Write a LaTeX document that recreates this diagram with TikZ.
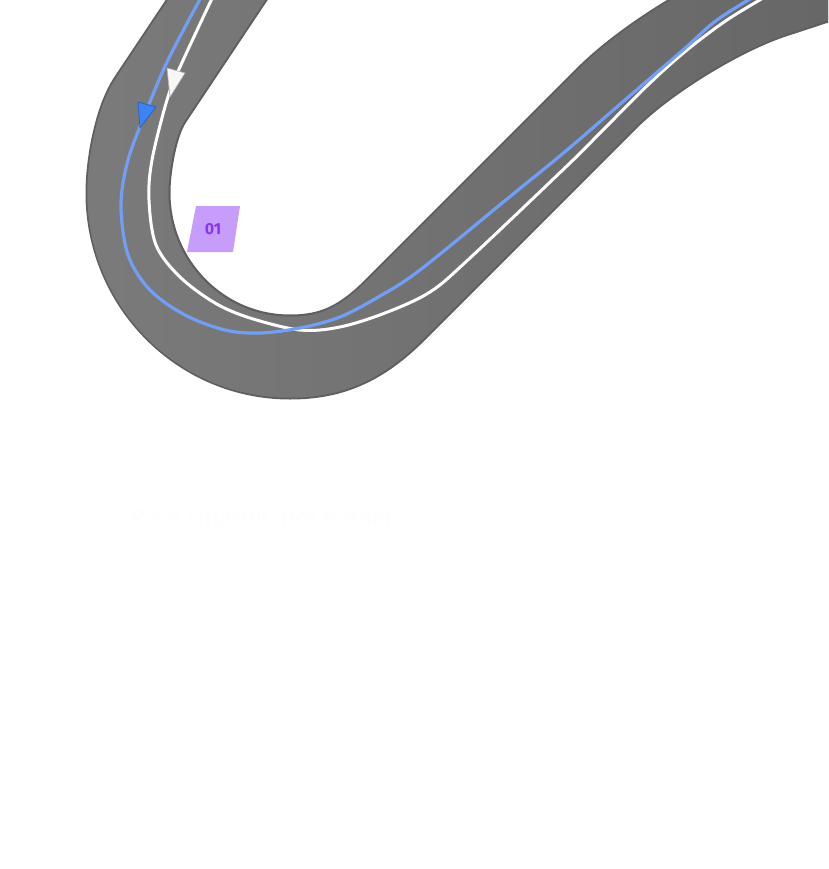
\documentclass[tikz,border=0pt]{standalone}
\usepackage{fontspec}
\setmainfont{Open Sans}
\newfontfamily\badgefont{Fira Sans}
\usetikzlibrary{positioning,calc,fadings}
\definecolor{trackgray}{HTML}{666666}
\definecolor{tracklight}{HTML}{7B7B7B}
\definecolor{trackedge}{HTML}{5F5F5F}
\definecolor{raceblue}{HTML}{739EF5}
\definecolor{arrowblue}{HTML}{3E82F7}
\definecolor{badgepurple}{HTML}{C79DFC}
\definecolor{badgetext}{HTML}{8A35F0}
\definecolor{mottowhite}{HTML}{FDFDFD}

\begin{document}
\begin{tikzpicture}[x=1pt, y=-1pt,
  trackline/.style={line cap=butt, line join=round},
  raceline/.style={draw=raceblue, line width=3.2pt, line cap=round},
  guideline/.style={draw=white, line width=3pt, line cap=round}]
\useasboundingbox (0,0) rectangle (828,869);
\clip (0,0) rectangle (828,869);

% Track
\def\trackpath{(240,-35) -- (150,100) .. controls (136,121) and (128,165) .. (128,193)
  .. controls (128,283) and (200,357) .. (290,357)
  .. controls (330,357) and (360,345) .. (395,310) -- (607,98)
  .. controls (646,59) and (721,13) .. (773,-4) -- (840,-26)}
\draw[trackline, draw=trackedge, line width=85pt] \trackpath;
\draw[trackline, draw=trackgray, line width=81pt] \trackpath;
\draw[trackline, draw=tracklight, line width=81pt, path fading=east] \trackpath;

% White line and racing line
\draw[guideline] plot[smooth, tension=0.55] coordinates {(216,-10) (180,67) (167,100) (152,160) (149,200) (156,245) (180,277) (215,303) (250,318) (300,330) (340,327) (385,313) (430,292) (470,258) (570,163) (600,133) (650,83) (687,50) (727,20) (770,-6)};
\draw[raceline] plot[smooth, tension=0.55] coordinates {(205,-10) (168,60) (146,112) (128,160) (121,205) (128,255) (150,290) (185,315) (225,330) (260,333) (300,328) (340,317) (380,296) (420,270) (507,199) (567,150) (633,93) (683,50) (717,20) (760,-7)};

% Direction arrows
\filldraw[fill=white!94!gray, draw=gray!60, line width=0.6pt, line join=round] (167,68) -- (185,73) -- (170,97) -- cycle;
\filldraw[fill=arrowblue, draw=arrowblue!75!black, line width=0.8pt, line join=round] (138,102) -- (156,107) -- (140,128) -- cycle;

% Corner badge
\fill[badgepurple] (196,206) -- (240,206) -- (233,252) -- (187,252) -- cycle;
\node[text=badgetext, font=\badgefont\bfseries\fontsize{16}{18}\selectfont] (badge) at (213,229) {01};

% Motto
\node[text=mottowhite, anchor=base west, inner sep=0pt, font=\fontsize{22.6}{27}\selectfont] (motto) at (131,525) {Race smarter, not harder.};
\end{tikzpicture}
\end{document}
